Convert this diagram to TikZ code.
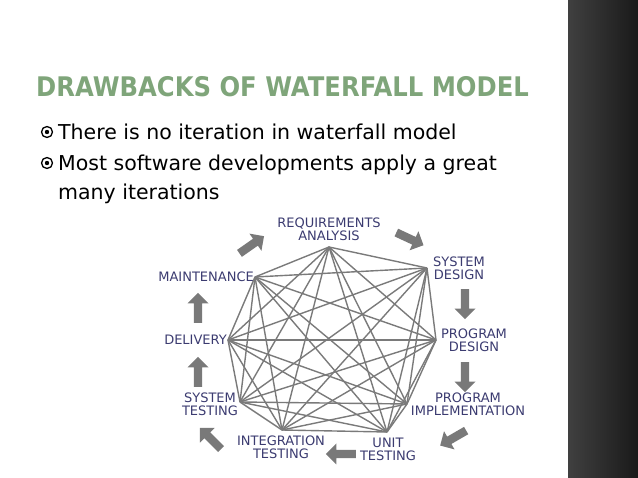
\documentclass[tikz,border=0pt]{standalone}
\usepackage{fontspec}
\setmainfont{DejaVu Sans}
\usetikzlibrary{shapes.arrows}
\definecolor{lab}{HTML}{3B3B70}
\definecolor{edge}{HTML}{7A7A7A}
\definecolor{ttl}{HTML}{7FA57A}
\begin{document}
\begin{tikzpicture}[x=1pt,y=-1pt,
  lbl/.style={font=\fontsize{13}{13}\selectfont, text=lab, align=center, inner sep=0pt},
  blk/.style={single arrow, fill=gray!95!black, draw=none, minimum height=30pt, minimum width=21pt, single arrow head extend=4pt, inner sep=2.5pt},
  bul/.style={font=\fontsize{20.5}{29}\selectfont, anchor=west, inner sep=0pt},
  dot/.style={circle, draw, line width=1.3pt, minimum size=11pt, inner sep=0pt, path picture={\fill (path picture bounding box.center) circle (2.2pt);}}]
\useasboundingbox (0,0) rectangle (638,478);
\fill[left color=black!75, right color=black!90] (568,0) rectangle (638,478);
\node[font=\bfseries\fontsize{27}{30}\selectfont, text=ttl, anchor=west, inner sep=0pt] (title) at (36,87) {\scalebox{0.9}[1]{DRAWBACKS OF WATERFALL MODEL}};
\node[dot] (b1s) at (47,132) {};
\node[bul] (b1) at (58,132) {There is no iteration in waterfall model};
\node[dot] (b2s) at (47,163) {};
\node[bul, align=left, anchor=north west] (b2) at (58,155) {Most software developments apply a great\\many iterations};
\foreach \n/\x/\y in {ra/329/247, sd/427/268, pd/436/340, pi/407/404, ut/387/432, it/282/430, st/240/402, dl/228/340, mt/255/277}
  \coordinate (\n) at (\x,\y);
\foreach \a/\b in {ra/sd,ra/pd,ra/pi,ra/ut,ra/it,ra/st,ra/dl,ra/mt,
  sd/pd,sd/pi,sd/ut,sd/it,sd/st,sd/dl,sd/mt,
  pd/pi,pd/ut,pd/it,pd/st,pd/dl,pd/mt,
  pi/ut,pi/it,pi/st,pi/dl,pi/mt,
  ut/it,ut/st,ut/dl,ut/mt,
  it/st,it/dl,it/mt,
  st/dl,st/mt, dl/mt}
  \draw[edge, line width=1.4pt] (\a) -- (\b);
\node[lbl] (lra) at (329,229) {REQUIREMENTS\\ANALYSIS};
\node[lbl] (lsd) at (459,268) {SYSTEM\\DESIGN};
\node[lbl] (lpd) at (474,340) {PROGRAM\\DESIGN};
\node[lbl] (lpi) at (468,404) {PROGRAM\\IMPLEMENTATION};
\node[lbl] (lut) at (388,449) {UNIT\\TESTING};
\node[lbl] (lit) at (281,447) {INTEGRATION\\TESTING};
\node[lbl] (lst) at (210,404) {SYSTEM\\TESTING};
\node[lbl, anchor=east] (ldl) at (227,340) {DELIVERY};
\node[lbl, anchor=east] (lmt) at (254,277) {MAINTENANCE};
\node[blk, rotate=35] (a1) at (250,246) {};
\node[blk, rotate=-25] (a2) at (408,238) {};
\node[blk, rotate=-90] (a3) at (465,302) {};
\node[blk, rotate=-90] (a4) at (465,375) {};
\node[blk, rotate=-150] (a5) at (455,437) {};
\node[blk, rotate=180] (a6) at (343,454) {};
\node[blk, rotate=135] (a7) at (212,440) {};
\node[blk, rotate=90] (a8) at (198,374) {};
\node[blk, rotate=90] (a9) at (198,310) {};
\end{tikzpicture}
\end{document}
